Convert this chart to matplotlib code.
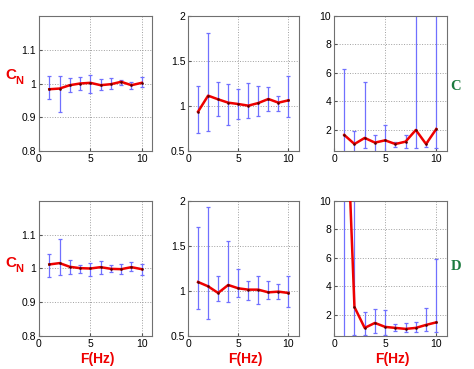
import numpy as np
import matplotlib
matplotlib.use('Agg')
import matplotlib.pyplot as plt

plt.rcParams['font.family'] = ['Liberation Sans', 'DejaVu Sans']

freq = [1, 2, 3, 4, 5, 6, 7, 8, 9, 10]

# row C
c_left_mean = [0.983, 0.985, 0.995, 1.000, 1.002, 0.995, 0.998, 1.005, 0.995, 1.002]
c_left_hi = [1.021, 1.023, 1.015, 1.019, 1.025, 1.014, 1.015, 1.011, 1.004, 1.019]
c_left_lo = [0.953, 0.916, 0.974, 0.981, 0.973, 0.982, 0.984, 0.997, 0.985, 0.989]

c_mid_mean = [0.937, 1.115, 1.074, 1.037, 1.022, 1.004, 1.033, 1.078, 1.037, 1.063]
c_mid_hi = [1.226, 1.815, 1.270, 1.244, 1.185, 1.256, 1.222, 1.215, 1.115, 1.330]
c_mid_lo = [0.696, 0.722, 0.889, 0.785, 0.852, 0.867, 0.889, 0.941, 0.948, 0.874]

c_right_mean = [1.63, 0.99, 1.42, 1.09, 1.25, 0.99, 1.16, 1.98, 0.99, 2.05]
c_right_hi = [6.30, 1.93, 5.33, 1.60, 2.35, 1.14, 1.65, 14.0, 1.16, 14.0]
c_right_lo = [0.40, 0.45, 0.69, 0.45, 0.45, 0.80, 0.74, 0.74, 0.80, 0.74]

# row D
d_left_mean = [1.012, 1.016, 1.005, 1.001, 1.000, 1.004, 0.999, 0.998, 1.004, 0.998]
d_left_hi = [1.042, 1.087, 1.026, 1.010, 1.017, 1.022, 1.009, 1.013, 1.018, 1.013]
d_left_lo = [0.975, 0.982, 0.984, 0.987, 0.977, 0.985, 0.989, 0.984, 0.992, 0.980]

d_mid_mean = [1.100, 1.052, 0.978, 1.067, 1.030, 1.015, 1.015, 0.985, 0.993, 0.978]
d_mid_hi = [1.715, 1.930, 1.163, 1.556, 1.248, 1.107, 1.167, 1.115, 1.074, 1.167]
d_mid_lo = [0.804, 0.693, 0.889, 0.874, 0.933, 0.896, 0.859, 0.911, 0.911, 0.822]

d_right_mean = [21.0, 2.54, 1.07, 1.42, 1.14, 1.07, 1.00, 1.07, 1.28, 1.46]
d_right_hi = [40.0, 30.0, 2.20, 2.40, 2.35, 1.35, 1.42, 1.49, 2.49, 5.92]
d_right_lo = [0.30, 0.60, 0.60, 0.72, 0.60, 0.84, 0.77, 0.77, 0.84, 0.77]

panels = [
    (c_left_mean, c_left_hi, c_left_lo, (0.8, 1.2), [0.8, 0.9, 1, 1.1], ['0.8', '0.9', '1', '1.1']),
    (c_mid_mean, c_mid_hi, c_mid_lo, (0.5, 2), [0.5, 1, 1.5, 2], ['0.5', '1', '1.5', '2']),
    (c_right_mean, c_right_hi, c_right_lo, (0.5, 10), [2, 4, 6, 8, 10], ['2', '4', '6', '8', '10']),
    (d_left_mean, d_left_hi, d_left_lo, (0.8, 1.2), [0.8, 0.9, 1, 1.1], ['0.8', '0.9', '1', '1.1']),
    (d_mid_mean, d_mid_hi, d_mid_lo, (0.5, 2), [0.5, 1, 1.5, 2], ['0.5', '1', '1.5', '2']),
    (d_right_mean, d_right_hi, d_right_lo, (0.5, 10), [2, 4, 6, 8, 10], ['2', '4', '6', '8', '10']),
]

W, H = 474, 369
lefts = [39, 188, 334]
widths = [113, 110.5, 112.5]
tops = [16, 201]
ax_h = 135

fig = plt.figure(figsize=(W / 100, H / 100), dpi=100)

red = '#ee0000'
blue = '#7070ff'
green = '#1b7a3e'

for i, (mean, hi, lo, ylim, yt, ytl) in enumerate(panels):
    r, c = divmod(i, 3)
    ax = fig.add_axes([lefts[c] / W, 1 - (tops[r] + ax_h) / H, widths[c] / W, ax_h / H])
    m = np.array(mean)
    yerr = [m - np.array(lo), np.array(hi) - m]
    ax.errorbar(freq, m, yerr=yerr, fmt='none', ecolor=blue, elinewidth=0.9,
                capsize=1.2, capthick=0.9, zorder=2)
    ax.plot(freq, m, color=red, linewidth=1.8, zorder=3)
    ax.plot(freq, m, 'o', color='#600000', markersize=0.9, zorder=4)
    ax.set_xlim(0, 11)
    ax.set_ylim(*ylim)
    ax.set_xticks([0, 5, 10])
    ax.set_yticks(yt)
    ax.set_yticklabels(ytl)
    ax.tick_params(direction='in', length=2.5, labelsize=7.5, pad=2, color='#555555')
    ax.grid(True, linestyle=':', color='#a0a0a0', linewidth=0.7)
    for s in ax.spines.values():
        s.set_color('#707070')
        s.set_linewidth(0.8)
    if r == 1:
        fig.text((lefts[c] + widths[c] / 2 + 2) / W, 1 - 359 / H, 'F(Hz)', color=red,
                 fontsize=10, fontweight='bold', ha='center', va='center')

# C_N labels
for yc in (75, 263):
    fig.text(11 / W, 1 - yc / H, 'C', color=red, fontsize=11, fontweight='bold',
             ha='center', va='center')
    fig.text(19.5 / W, 1 - (yc + 6) / H, 'N', color=red, fontsize=8, fontweight='bold',
             ha='center', va='center')

fig.text(455.5 / W, 1 - 86.5 / H, 'C', color=green, fontsize=10.5, fontweight='bold',
         family='Liberation Serif', ha='center', va='center')
fig.text(456.5 / W, 1 - 266 / H, 'D', color=green, fontsize=10.5, fontweight='bold',
         family='Liberation Serif', ha='center', va='center')

fig.savefig('out.png', dpi=100)
